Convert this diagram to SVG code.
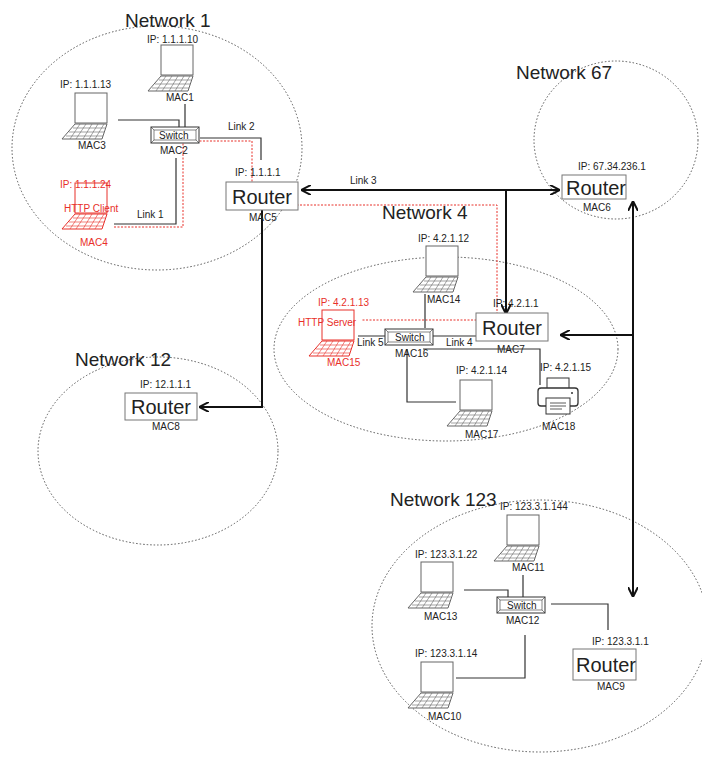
<svg xmlns="http://www.w3.org/2000/svg" width="702" height="761" viewBox="0 0 702 761">
<style>
text{font-family:"Liberation Sans",Arial,sans-serif;fill:#222}
.s{font-size:10px}
.r{font-size:20px}
.n{font-size:19px}
.red{fill:#e8302a}
.net{fill:none;stroke:#555;stroke-width:1;stroke-dasharray:1.5 2}
.ln{fill:none;stroke:#333;stroke-width:1.2}
.ar{fill:none;stroke:#111;stroke-width:2}
.rd{fill:none;stroke:#e8302a;stroke-width:1;stroke-dasharray:2 1.5}
.box{fill:#fff;stroke:#777;stroke-width:1}
</style>
<defs>
<marker id="ah" viewBox="0 0 10 10" refX="9" refY="5" markerWidth="5" markerHeight="5" orient="auto-start-reverse"><path d="M0,0 L10,5 L0,10" fill="none" stroke="#111" stroke-width="2"/></marker>
<g id="lap">
<rect x="0" y="0" width="32" height="30" fill="#fff" stroke="currentColor" stroke-width="1"/>
<path d="M0,31 L32,31 L27,46 L-13,46 Z" fill="#fff" stroke="currentColor" stroke-width="1"/>
<path d="M-2,35 L30,35 M-6,39 L29,39 M-9,43 L28,43 M5,31 L-5,46 M11,31 L1,46 M17,31 L8,46 M23,31 L14,46 M29,31 L20,46" stroke="currentColor" stroke-width="0.6"/>
</g>
<g id="sw">
<rect x="0" y="0" width="48" height="16" fill="#fff" stroke="#333"/>
<rect x="3" y="3" width="42" height="10" fill="none" stroke="#333" stroke-width="0.6"/>
<path d="M0,0 L3,3 M48,0 L45,3 M0,16 L3,13 M48,16 L45,13" stroke="#333" stroke-width="0.6"/>
</g>
</defs>
<g id="networks">
<ellipse class="net" cx="157" cy="148" rx="145" ry="122"/>
<ellipse class="net" cx="616" cy="140" rx="82" ry="79"/>
<ellipse class="net" cx="446" cy="349" rx="172" ry="92"/>
<ellipse class="net" cx="158" cy="451" rx="120" ry="94"/>
<ellipse class="net" cx="540" cy="626" rx="168" ry="126"/>
<text class="n" x="125" y="27">Network 1</text>
<text class="n" x="516" y="79">Network 67</text>
<text class="n" x="382" y="219">Network 4</text>
<text class="n" x="75" y="366">Network 12</text>
<text class="n" x="390" y="506">Network 123</text>
</g>
<g id="connectors">
<path class="ln" d="M118,120 H179 V127 M185,104 V127 M200,138 H261 V160 M114,224 H176 V158"/>
<path class="rd" d="M114,227 H183 V141 H252 V205 H497 V320 H362"/>
<path class="ln" d="M358,336 H385 M433,336 H476 M425,294 V328 M423,349 H540 V385 M407,349 V402 H456"/>
<path class="ln" d="M464,590 H508 V597 M523,575 V597 M551,604 H608 V630 M456,678 H525 V635"/>
<path class="ar" marker-start="url(#ah)" marker-end="url(#ah)" d="M302,190 H559"/>
<path class="ar" marker-end="url(#ah)" d="M506,190 V313"/>
<path class="ar" marker-start="url(#ah)" marker-end="url(#ah)" d="M633,202 V596"/>
<path class="ar" marker-end="url(#ah)" d="M633,335 H561"/>
<path class="ar" marker-start="url(#ah)" marker-end="url(#ah)" d="M262,196 V407 H200"/>
<text class="s" x="228" y="130">Link 2</text>
<text class="s" x="137" y="218">Link 1</text>
<text class="s" x="350" y="184">Link 3</text>
<text class="s" x="357" y="346">Link 5</text>
<text class="s" x="446" y="346">Link 4</text>
</g>
<g id="MAC1" color="#666"><use href="#lap" x="161" y="45"/><text class="s" x="147" y="43">IP: 1.1.1.10</text><text class="s" x="166" y="101">MAC1</text></g>
<g id="MAC3" color="#666"><use href="#lap" x="75" y="93"/><text class="s" x="60" y="88">IP: 1.1.1.13</text><text class="s" x="78" y="149">MAC3</text></g>
<g id="MAC2"><use href="#sw" x="151" y="127"/><text class="s" x="159" y="139">Switch</text><text class="s" x="160" y="154">MAC2</text></g>
<g id="MAC4" color="#e8302a"><use href="#lap" x="75" y="183"/><text class="s red" x="60" y="188">IP: 1.1.1.24</text><text class="s red" x="64" y="212">HTTP Client</text><text class="s red" x="80" y="246">MAC4</text></g>
<g id="MAC5"><rect class="box" x="226" y="182" width="72" height="28"/><text class="r" x="232" y="204">Router</text><text class="s" x="235" y="176">IP: 1.1.1.1</text><text class="s" x="249" y="221">MAC5</text></g>
<g id="MAC6"><rect class="box" x="562" y="175" width="64" height="24"/><text class="r" x="566" y="195">Router</text><text class="s" x="578" y="170">IP: 67.34.236.1</text><text class="s" x="583" y="211">MAC6</text></g>
<g id="MAC7"><rect class="box" x="476" y="313" width="72" height="28"/><text class="r" x="482" y="335">Router</text><text class="s" x="493" y="307">IP: 4.2.1.1</text><text class="s" x="497" y="353">MAC7</text></g>
<g id="MAC14" color="#666"><use href="#lap" x="426" y="246"/><text class="s" x="418" y="242">IP: 4.2.1.12</text><text class="s" x="427" y="303">MAC14</text></g>
<g id="MAC16"><use href="#sw" x="385" y="329"/><text class="s" x="395" y="341">Switch</text><text class="s" x="395" y="357">MAC16</text></g>
<g id="MAC15" color="#e8302a"><use href="#lap" x="322" y="310"/><text class="s red" x="318" y="306">IP: 4.2.1.13</text><text class="s red" x="298" y="326">HTTP Server</text><text class="s red" x="327" y="366">MAC15</text></g>
<g id="MAC17" color="#666"><use href="#lap" x="460" y="380"/><text class="s" x="456" y="374">IP: 4.2.1.14</text><text class="s" x="465" y="438">MAC17</text></g>
<g id="MAC18"><text class="s" x="540" y="371">IP: 4.2.1.15</text>
<rect x="547" y="378" width="22" height="12" fill="#fff" stroke="#333"/>
<rect x="538" y="388" width="40" height="18" rx="3" fill="#fff" stroke="#333" stroke-width="1.3"/>
<rect x="546" y="398" width="24" height="16" fill="#fff" stroke="#333"/>
<path d="M550,403 H566 M550,406 H566 M550,409 H562" stroke="#333" stroke-width="0.8"/>
<circle cx="572" cy="393" r="1" fill="#333"/>
<text class="s" x="542" y="430">MAC18</text></g>
<g id="MAC8"><rect class="box" x="125" y="393" width="72" height="27"/><text class="r" x="131" y="414">Router</text><text class="s" x="140" y="388">IP: 12.1.1.1</text><text class="s" x="152" y="430">MAC8</text></g>
<g id="MAC11" color="#666"><use href="#lap" x="507" y="515"/><text class="s" x="500" y="510">IP: 123.3.1.144</text><text class="s" x="512" y="571">MAC11</text></g>
<g id="MAC13" color="#666"><use href="#lap" x="421" y="562"/><text class="s" x="415" y="558">IP: 123.3.1.22</text><text class="s" x="424" y="620">MAC13</text></g>
<g id="MAC12"><use href="#sw" x="497" y="597"/><text class="s" x="507" y="609">Switch</text><text class="s" x="506" y="624">MAC12</text></g>
<g id="MAC10" color="#666"><use href="#lap" x="421" y="662"/><text class="s" x="415" y="657">IP: 123.3.1.14</text><text class="s" x="428" y="720">MAC10</text></g>
<g id="MAC9"><rect class="box" x="573" y="649" width="63" height="31"/><text class="r" x="576" y="672">Router</text><text class="s" x="592" y="645">IP: 123.3.1.1</text><text class="s" x="597" y="690">MAC9</text></g>
</svg>
